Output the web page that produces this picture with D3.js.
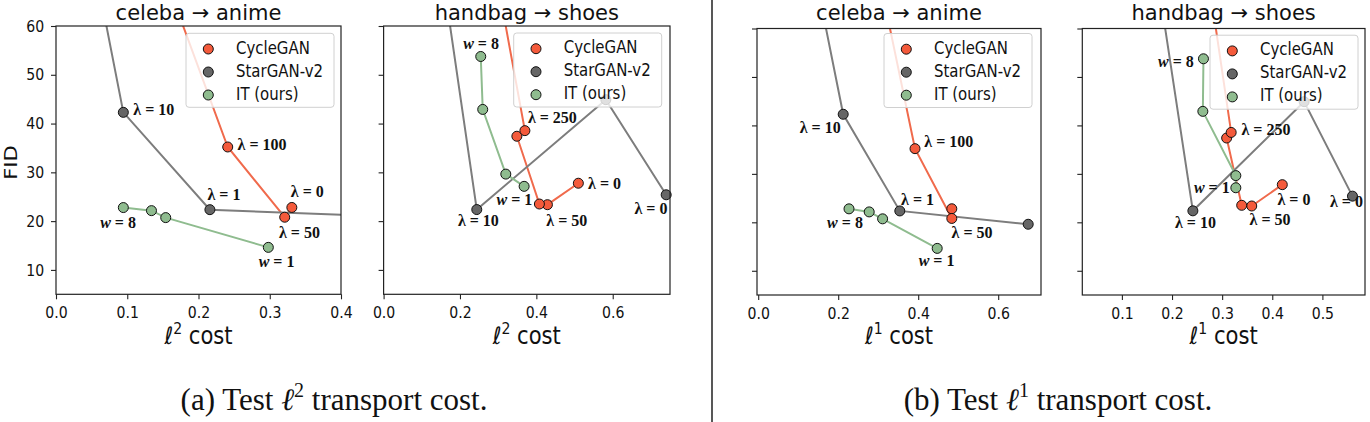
<!DOCTYPE html>
<html>
<head>
<meta charset="utf-8">
<script src="https://cdn.jsdelivr.net/npm/d3@7"></script>
<style>
  body { margin: 0; background: #fff; }
  svg { display: block; }
</style>
</head>
<body>
<div id="chart"></div>
<script>
// #########################################################
// DATA (FID is shared between the l2 and l1 panels of one dataset)
// #########################################################

var methods = ["CycleGAN", "StarGAN-v2", "IT (ours)"];
var panelTitles = ["celeba → anime", "handbag → shoes", "celeba → anime", "handbag → shoes"];
var costNames = ["2", "2", "1", "1"];

// celeba -> anime
var celebaCycleFid   = [22.8, 20.8, 35.2, 80];
var celebaCycleL2    = [0.331, 0.321, 0.241, 0.128];
var celebaCycleL1    = [0.484, 0.484, 0.392, 0.279];
var celebaCycleNames = ["λ = 0", "λ = 50", "λ = 100", ""];

var celebaStarFid    = [19.6, 22.35, 42.3, 80];
var celebaStarL2     = [0.69, 0.216, 0.0945, 0.044];
var celebaStarL1     = [0.675, 0.354, 0.2125, 0.121];
var celebaStarNames  = ["λ = 0", "λ = 1", "λ = 10", ""];

var celebaITFid      = [22.78, 22.15, 20.72, 14.62];
var celebaITL2       = [0.0945, 0.134, 0.154, 0.298];
var celebaITL1       = [0.227, 0.2775, 0.311, 0.4475];
var itNames          = ["w = 8", "", "", "w = 1"];

// handbag -> shoes
var handbagCycleFid   = [27.77, 23.37, 23.51, 37.4, 38.55, 80];
var handbagCycleL2    = [0.510, 0.429, 0.408, 0.349, 0.370, 0.273];
var handbagCycleL1    = [0.420, 0.359, 0.339, 0.309, 0.318, 0.259];
var handbagCycleNames = ["λ = 0", "λ = 50", "", "", "λ = 250", ""];

var handbagStarFid    = [25.4, 44.9, 22.37, 80];
var handbagStarL2     = [0.740, 0.582, 0.244, 0.137];
var handbagStarL1     = [0.560, 0.4635, 0.2416, 0.157];
var handbagStarNames  = ["λ = 0", "λ = 1", "λ = 10", ""];

var handbagITFid      = [53.75, 42.9, 29.64, 27.13];
var handbagITL2       = [0.2544, 0.2596, 0.320, 0.368];
var handbagITL1       = [0.2627, 0.2615, 0.3273, 0.3273];

var yDomain = [5, 60];
var yTicks = [10, 20, 30, 40, 50, 60];

// #########################################################
// LAYOUT
// #########################################################

var W = 1370, H = 422;
var squish = "scale(0.88,1)";
var sans = "'DejaVu Sans', sans-serif";
var serif = "'Liberation Serif', 'DejaVu Serif', serif";

var markColors = ["#f45a3b", "#666666", "#8fbc8f"];
var lineColors = ["#f06a4c", "#7d7d7d", "#8fbc8f"];

// label offsets (px, text centre relative to the point), null = no label
var panels = [
  { left: 56, right: 341, top: 26, bottom: 294.3, xDomain: [0, 0.4], xTicks: [0, 0.1, 0.2, 0.3, 0.4],
    yLabels: true, legend: [7, 7.3],
    series: [
      { fid: celebaCycleFid, cost: celebaCycleL2, names: celebaCycleNames,
        off: [[15.5, -15], [14.7, 15.3], [34.3, -2.3], null] },
      { fid: celebaStarFid, cost: celebaStarL2, names: celebaStarNames,
        off: [null, [14, -15], [30.5, -2.7], null] },
      { fid: celebaITFid, cost: celebaITL2, names: itNames,
        off: [[-5.3, 15], null, null, [8.2, 14.6]] }
    ] },
  { left: 383.6, right: 670, top: 26, bottom: 294.3, xDomain: [0, 0.75], xTicks: [0, 0.2, 0.4, 0.6],
    yLabels: false, legend: [8.3, 7],
    series: [
      { fid: handbagCycleFid, cost: handbagCycleL2, names: handbagCycleNames,
        off: [[26.2, 1], [19.4, 16], null, null, [27.5, -12.7], null] },
      { fid: handbagStarFid, cost: handbagStarL2, names: handbagStarNames,
        off: [[-15.2, 14.3], null, [1.6, 11.7], null] },
      { fid: handbagITFid, cost: handbagITL2, names: itNames,
        off: [[0.3, -12.4], null, null, [-9.7, 13.3]] }
    ] },
  { left: 757, right: 1041, top: 28.5, bottom: 295, xDomain: [-0.003, 0.707], xTicks: [0, 0.2, 0.4, 0.6],
    yLabels: false, legend: [9, 5],
    series: [
      { fid: celebaCycleFid, cost: celebaCycleL1, names: celebaCycleNames,
        off: [null, [20.3, 14.4], [33.8, -6.6], null] },
      { fid: celebaStarFid, cost: celebaStarL1, names: celebaStarNames,
        off: [null, [17.8, -10.7], [-23, 14], null] },
      { fid: celebaITFid, cost: celebaITL1, names: itNames,
        off: [[-4, 13.7], null, null, [-0.6, 12.7]] }
    ] },
  { left: 1082.3, right: 1365, top: 28.5, bottom: 295, xDomain: [0.021, 0.585], xTicks: [0.1, 0.2, 0.3, 0.4, 0.5],
    yLabels: false, legend: [7, 6.7],
    series: [
      { fid: handbagCycleFid, cost: handbagCycleL1, names: handbagCycleNames,
        off: [[11.7, 15], [18.3, 14.3], null, null, [34.8, -2.3], null] },
      { fid: handbagStarFid, cost: handbagStarL1, names: handbagStarNames,
        off: [[-6, 5.7], null, [2.6, 12], null] },
      { fid: handbagITFid, cost: handbagITL1, names: itNames,
        off: [[-27.5, 3.7], null, null, [-24, 0.6]] }
    ] }
];

// #########################################################
// DRAW
// #########################################################

var svg = d3.select("#chart")
  .append("svg")
    .attr("width", W)
    .attr("height", H);

svg.append("rect").attr("width", W).attr("height", H).attr("fill", "#fff");

var defs = svg.append("defs");

panels.forEach(function(p, pi) {
  var x = d3.scaleLinear().domain(p.xDomain).range([p.left, p.right]);
  var y = d3.scaleLinear().domain(yDomain).range([p.bottom, p.top]);

  defs.append("clipPath").attr("id", "clip" + pi)
    .append("rect")
      .attr("x", p.left).attr("y", p.top)
      .attr("width", p.right - p.left).attr("height", p.bottom - p.top);

  var g = svg.append("g");

  // axes
  var xAxis = g.append("g")
      .attr("transform", "translate(0," + p.bottom + ")")
      .call(d3.axisBottom(x).tickValues(p.xTicks).tickFormat(d3.format(".1f"))
        .tickSize(5).tickPadding(7.5).tickSizeOuter(0));
  var yAxis = g.append("g")
      .attr("transform", "translate(" + p.left + ",0)")
      .call(d3.axisLeft(y).tickValues(yTicks)
        .tickFormat(p.yLabels ? d3.format("d") : "")
        .tickSize(5).tickPadding(8.5).tickSizeOuter(0));
  [xAxis, yAxis].forEach(function(a) {
    a.attr("font-family", sans).attr("font-size", 16);
    a.select(".domain").remove();
    a.selectAll("line").attr("stroke", "#222").attr("stroke-width", 1.1);
    a.selectAll("text").attr("fill", "#111").attr("transform", squish);
  });

  // lines
  var line = d3.line()
    .x(function(d) { return x(d[0]); })
    .y(function(d) { return y(d[1]); });

  var plot = g.append("g").attr("clip-path", "url(#clip" + pi + ")");
  p.series.forEach(function(s, si) {
    var pts = s.cost.map(function(c, i) { return [c, s.fid[i]]; });
    plot.append("path")
      .datum(pts)
      .attr("d", line)
      .attr("fill", "none")
      .attr("stroke", lineColors[si])
      .attr("stroke-width", 2);
  });

  // markers (only points inside the axes)
  p.series.forEach(function(s, si) {
    var pts = s.cost.map(function(c, i) { return [c, s.fid[i]]; })
      .filter(function(d) { return d[1] <= yDomain[1] && d[0] >= p.xDomain[0] && d[0] <= p.xDomain[1]; });
    g.append("g").selectAll("circle")
      .data(pts)
      .enter()
      .append("circle")
        .attr("cx", function(d) { return x(d[0]); })
        .attr("cy", function(d) { return y(d[1]); })
        .attr("r", 5)
        .attr("fill", markColors[si])
        .attr("stroke", "#111")
        .attr("stroke-width", 1);
  });

  // point annotations
  p.series.forEach(function(s) {
    s.off.forEach(function(o, i) {
      if (!o || !s.names[i]) return;
      var sym = s.names[i].charAt(0);
      var t = g.append("text")
        .attr("x", x(s.cost[i]) + o[0])
        .attr("y", y(s.fid[i]) + o[1] + 5)
        .attr("text-anchor", "middle")
        .attr("font-family", serif)
        .attr("font-weight", "bold")
        .attr("font-size", 16)
        .attr("fill", "#111");
      t.append("tspan").attr("font-style", sym === "w" ? "italic" : "normal").text(sym);
      t.append("tspan").text(s.names[i].slice(1));
    });
  });

  // frame
  g.append("rect")
    .attr("x", p.left).attr("y", p.top)
    .attr("width", p.right - p.left).attr("height", p.bottom - p.top)
    .attr("fill", "none").attr("stroke", "#222").attr("stroke-width", 1.2);

  // legend
  var lw = 148, lh = 74;
  var lx = p.right - p.legend[0] - lw, ly = p.top + p.legend[1];
  var leg = g.append("g").attr("transform", "translate(" + lx + "," + ly + ")");
  leg.append("rect")
    .attr("width", lw).attr("height", lh).attr("rx", 3)
    .attr("fill", "#fff").attr("fill-opacity", 0.8)
    .attr("stroke", "#d0d0d0").attr("stroke-width", 1);
  methods.forEach(function(m, mi) {
    var ry = 15.7 + mi * 23;
    leg.append("circle")
      .attr("cx", 22.3).attr("cy", ry).attr("r", 5)
      .attr("fill", markColors[mi]).attr("stroke", "#111").attr("stroke-width", 1);
    leg.append("text")
      .attr("transform", "translate(50," + (ry + 4.5) + ") " + squish)
      .attr("font-family", sans).attr("font-size", 17).attr("fill", "#111")
      .text(m);
  });

  // title
  svg.append("text")
    .attr("x", (p.left + p.right) / 2)
    .attr("y", 20)
    .attr("text-anchor", "middle")
    .attr("font-family", sans).attr("font-size", 21).attr("fill", "#111")
    .text(panelTitles[pi]);

  // x label
  var xl = svg.append("text")
    .attr("transform", "translate(" + ((p.left + p.right) / 2) + ",344.3) " + squish)
    .attr("text-anchor", "middle")
    .attr("font-family", sans).attr("font-size", 24).attr("fill", "#111");
  xl.append("tspan").attr("font-style", "italic").text("ℓ");
  xl.append("tspan").attr("font-size", 16).attr("dy", -10).text(costNames[pi]);
  xl.append("tspan").attr("dy", 10).text(" cost");

  // y label
  if (p.yLabels) {
    svg.append("text")
      .attr("transform", "translate(17,162.5) " + squish + " rotate(-90)")
      .attr("text-anchor", "middle")
      .attr("font-family", sans).attr("font-size", 21).attr("fill", "#111")
      .text("FID");
  }
});

// separator between (a) and (b)
svg.append("line")
  .attr("x1", 712).attr("x2", 712).attr("y1", 0).attr("y2", H)
  .attr("stroke", "#111").attr("stroke-width", 1.4);

// captions
var captions = [
  { cx: 334, pre: "(a) Test ", sup: "2" },
  { cx: 1058, pre: "(b) Test ", sup: "1" }
];
captions.forEach(function(c) {
  var t = svg.append("text")
    .attr("x", c.cx).attr("y", 410)
    .attr("text-anchor", "middle")
    .attr("font-family", serif).attr("font-size", 31).attr("fill", "#111");
  t.append("tspan").text(c.pre);
  t.append("tspan").attr("font-style", "italic").text("ℓ");
  t.append("tspan").attr("font-size", 20).attr("dy", -13).text(c.sup);
  t.append("tspan").attr("dy", 13).text(" transport cost.");
});
</script>
</body>
</html>
